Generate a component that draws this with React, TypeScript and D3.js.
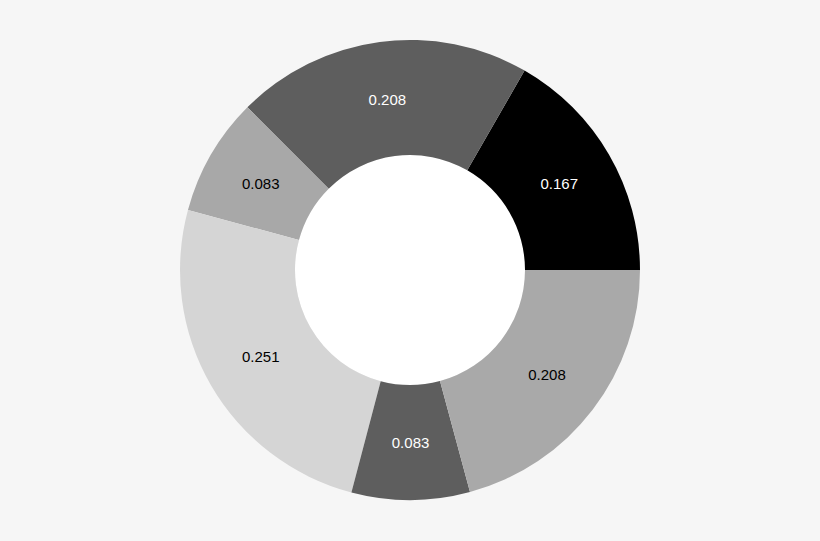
import React, { useEffect } from 'react';
import * as d3 from 'd3';

const W = 820;
const H = 541;

const values = [0.167, 0.208, 0.083, 0.251, 0.083, 0.208];
const fills = ['#000000', '#5e5e5e', '#a8a8a8', '#d5d5d5', '#5e5e5e', '#a9a9a9'];
const labelColors = ['#ffffff', '#ffffff', '#000000', '#000000', '#ffffff', '#000000'];

export default function App() {
  useEffect(() => {
    document.body.style.margin = '0';
    document.body.style.background = '#f6f6f6';
  }, []);

  const cx = 410;
  const cy = 270;
  const outer = 230;
  const inner = 115;

  // start at 3 o'clock and run counter-clockwise
  const pie = d3
    .pie<number>()
    .sort(null)
    .value((d) => d)
    .startAngle(Math.PI / 2)
    .endAngle(Math.PI / 2 - 2 * Math.PI);

  const arcs = pie(values);
  const arc = d3.arc<d3.PieArcDatum<number>>().innerRadius(inner).outerRadius(outer);
  const labelArc = d3
    .arc<d3.PieArcDatum<number>>()
    .innerRadius((inner + outer) / 2)
    .outerRadius((inner + outer) / 2);

  return (
    <svg width={W} height={H} style={{ display: 'block', background: '#f6f6f6' }}>
      <g transform={`translate(${cx},${cy})`}>
        <circle r={inner} fill="#ffffff" />
        {arcs.map((d, i) => (
          <path key={`s-${i}`} d={arc(d)} fill={fills[i]} />
        ))}
        {arcs.map((d, i) => {
          const [x, y] = labelArc.centroid(d);
          return (
            <text
              key={`l-${i}`}
              x={x}
              y={y}
              textAnchor="middle"
              dominantBaseline="central"
              fontFamily="'Liberation Sans', Arial, sans-serif"
              fontSize={15}
              fill={labelColors[i]}
            >
              {d3.format('.3f')(d.data)}
            </text>
          );
        })}
      </g>
    </svg>
  );
}
